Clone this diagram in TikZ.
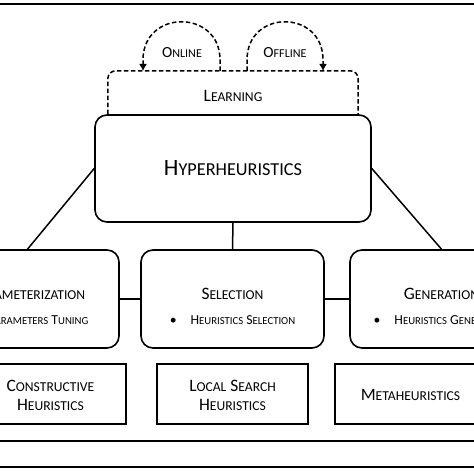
\documentclass[tikz,border=0pt]{standalone}
\usepackage{fontspec}
\setmainfont{Carlito}
\usepackage{graphicx}
\usetikzlibrary{arrows.meta}
% fake small caps: first letter full size, rest scaled
\newcommand{\fsc}[2]{#1\scalebox{0.78}{#2}}
% title plus one bullet item, set a bit below the middle
\newcommand{\twoline}[2]{\raisebox{-9bp}[\height][\depth]{\begin{tabular}{@{}c@{}}#1\\[5bp]{\fontsize{13.8}{16}\selectfont\textbullet\hspace{14bp}#2}\end{tabular}}}
% text of the lower boxes, a little below the middle
\newcommand{\lowtext}[1]{\raisebox{-3bp}[\height][\depth]{\begin{tabular}{@{}c@{}}#1\end{tabular}}}

\begin{document}
\begin{tikzpicture}[x=1bp,y=-1bp]
\tikzstyle{every node}+=[inner sep=0pt]
\tikzstyle{conn}=[line width=1.5bp]
\tikzstyle{dashline}=[line width=1.5bp, dash pattern=on 4.5bp off 2.5bp]
\tikzstyle{rbox}=[draw, line width=1.6bp, rounded corners=12bp, minimum width=183bp, minimum height=98bp, align=center, font=\fontsize{17.5}{20}\selectfont]
\tikzstyle{sbox}=[draw, line width=1.6bp, minimum width=151bp, minimum height=60bp, align=center, font=\fontsize{17.5}{19}\selectfont]
\useasboundingbox (0,0) rectangle (474,474);
\clip (0,0) rectangle (474,474);

% frame lines
\draw [line width=1.8bp] (0,4) -- (474,4);
\draw [line width=1.6bp] (0,441) -- (474,441);
\draw [line width=1.6bp] (0,467) -- (474,467);

% learning
\node [minimum width=250bp, minimum height=50bp, font=\fontsize{17.5}{20}\selectfont] (learn) at (233,96) {\fsc{L}{EARNING}};
\draw [dashline, rounded corners=8bp] (learn.south west) |- (learn.north) -| (learn.south east);
\coordinate (onA) at (220,71);
\coordinate (onB) at (143,71);
\coordinate (offA) at (247,71);
\coordinate (offB) at (323,71);
\draw [dashline, -{Latex[length=7bp,width=8bp]}] (onA) -- (220,60) .. controls +(0,-51) and +(0,-51) .. (143,60) -- (onB);
\draw [dashline, -{Latex[length=7bp,width=8bp]}] (offA) -- (247,60) .. controls +(0,-51) and +(0,-51) .. (323,60) -- (offB);
\node [font=\fontsize{15.5}{18}\selectfont] (online) at (182,53) {\fsc{O}{NLINE}};
\node [font=\fontsize{15.5}{18}\selectfont] (offline) at (285,53) {\fsc{O}{FFLINE}};

% hyperheuristics
\node [draw, fill=white, line width=1.6bp, rounded corners=12bp, minimum width=276bp, minimum height=107bp, font=\fontsize{23.5}{26}\selectfont] (hyper) at (233,168.5) {\fsc{H}{YPERHEURISTICS}};

% second row
\node [rbox] (param) at (27.5,299) {\twoline{\fsc{P}{ARAMETERIZATION}}{\fsc{P}{ARAMETERS} \fsc{T}{UNING}}};
\node [rbox] (sel) at (232.5,299) {\twoline{\fsc{S}{ELECTION}}{\fsc{H}{EURISTICS} \fsc{S}{ELECTION}}};
\node [rbox] (gen) at (441.5,299) {\twoline{\fsc{G}{ENERATION}}{\fsc{H}{EURISTICS} \fsc{G}{ENERATION}}};

\draw [conn] (hyper.west) -- (param.north);
\draw [conn] (hyper.south) -- (sel.north);
\draw [conn] (hyper.east) -- (gen.north);
\draw [conn] (param.east) -- (sel.west);
\draw [conn] (sel.east) -- (gen.west);

% third row
\node [sbox] (cons) at (50.5,394) {\lowtext{\fsc{C}{ONSTRUCTIVE}\\\fsc{H}{EURISTICS}}};
\node [sbox] (local) at (232.5,394) {\lowtext{\fsc{L}{OCAL} \fsc{S}{EARCH}\\\fsc{H}{EURISTICS}}};
\node [sbox] (meta) at (410.5,394) {\lowtext{\fsc{M}{ETAHEURISTICS}}};
\end{tikzpicture}
\end{document}
